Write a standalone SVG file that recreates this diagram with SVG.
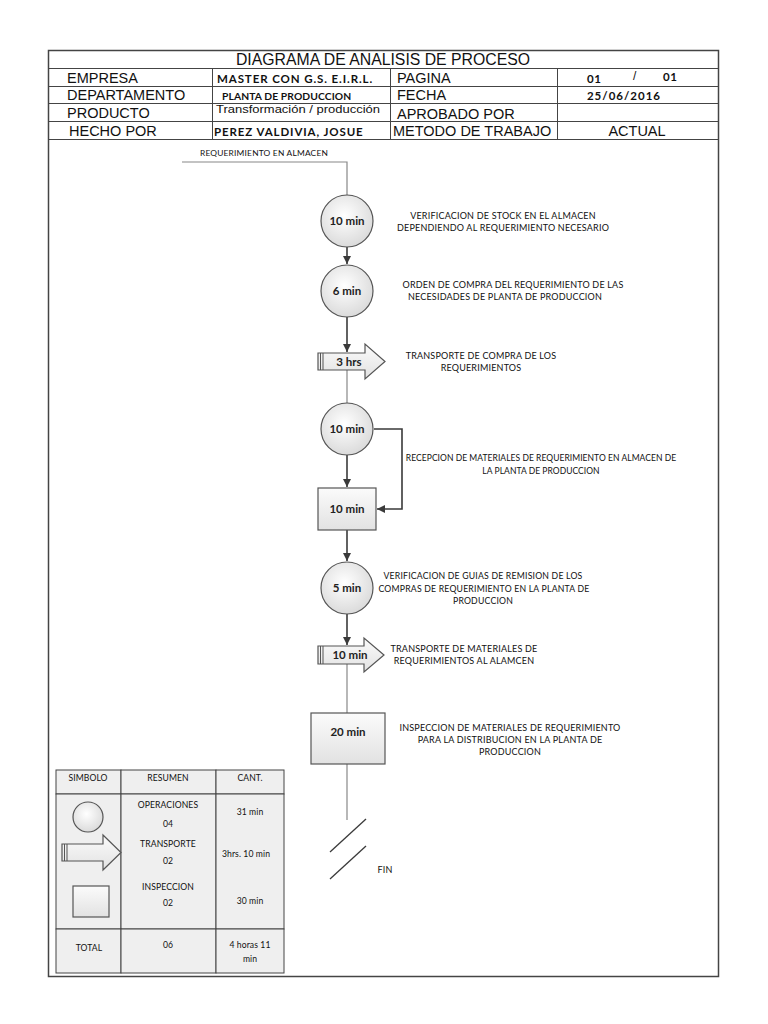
<svg xmlns="http://www.w3.org/2000/svg" width="768" height="1024" viewBox="0 0 768 1024">
<style>
.hd{font-family:"Liberation Sans",Arial,sans-serif;font-size:14.5px;fill:#111}
.val{font-family:Lato,"Open Sans",sans-serif;font-size:11.5px;font-weight:bold;fill:#111;letter-spacing:0.6px}
.sm{font-family:Lato,"Open Sans",sans-serif;font-size:9px;fill:#111;text-anchor:middle;letter-spacing:0.2px}
.tb{font-family:Lato,"Open Sans",sans-serif;font-size:8.6px;fill:#111;text-anchor:middle;letter-spacing:0.1px}
.nl{font-family:Lato,"Open Sans",sans-serif;font-size:11.5px;font-weight:bold;fill:#222;text-anchor:middle}
.grid{stroke:#444;stroke-width:1;fill:none}
.op{fill:url(#rg);stroke:#555;stroke-width:1.2}
.box{fill:url(#lg);stroke:#555;stroke-width:1.2}
.con{stroke:#3a3a3a;stroke-width:1.6;fill:none}
.thin{stroke:#888;stroke-width:1.2;fill:none}
.cell{fill:#efefef;stroke:#444;stroke-width:1}
</style>
<defs>
<radialGradient id="rg" cx="0.45" cy="0.4" r="0.65">
<stop offset="0" stop-color="#ffffff"/>
<stop offset="1" stop-color="#d8d8d8"/>
</radialGradient>
<linearGradient id="lg" x1="0" y1="0" x2="0" y2="1">
<stop offset="0" stop-color="#fbfbfb"/>
<stop offset="1" stop-color="#e2e2e2"/>
</linearGradient>
<marker id="ah" markerWidth="10" markerHeight="10" refX="8" refY="5" orient="auto" markerUnits="userSpaceOnUse">
<path d="M0,1 L8,5 L0,9 Z" fill="#3a3a3a"/>
</marker>
</defs>
<rect width="768" height="1024" fill="#fff"/>
<g id="frame">
<rect x="48.5" y="50.5" width="670" height="926" class="grid" style="stroke-width:1.5"/>
<line x1="48" y1="68.5" x2="719" y2="68.5" class="grid"/>
<line x1="48" y1="86.5" x2="719" y2="86.5" class="grid"/>
<line x1="48" y1="103.5" x2="719" y2="103.5" class="grid"/>
<line x1="48" y1="121.5" x2="719" y2="121.5" class="grid"/>
<line x1="48" y1="139.5" x2="719" y2="139.5" class="grid"/>
<line x1="212.5" y1="68" x2="212.5" y2="139" class="grid"/>
<line x1="390.5" y1="68" x2="390.5" y2="139" class="grid"/>
<line x1="557.5" y1="68" x2="557.5" y2="139" class="grid"/>
<text x="383" y="64.5" class="hd" text-anchor="middle" style="font-size:15.8px">DIAGRAMA DE ANALISIS DE PROCESO</text>
<text x="67" y="83" class="hd">EMPRESA</text>
<text x="67" y="100" class="hd">DEPARTAMENTO</text>
<text x="67" y="118" class="hd">PRODUCTO</text>
<text x="69" y="136" class="hd">HECHO POR</text>
<text x="217" y="83" class="val" style="letter-spacing:0.9px">MASTER CON G.S. E.I.R.L.</text>
<text x="222" y="100" class="val" style="font-size:10.3px;letter-spacing:0.1px">PLANTA DE PRODUCCION</text>
<text x="216" y="113" class="hd" style="font-size:11px" textLength="164" lengthAdjust="spacingAndGlyphs">Transformación / producción</text>
<text x="214" y="136" class="val" style="letter-spacing:0.9px">PEREZ VALDIVIA, JOSUE</text>
<text x="397" y="83" class="hd">PAGINA</text>
<text x="397" y="100" class="hd">FECHA</text>
<text x="397" y="119" class="hd">APROBADO POR</text>
<text x="393" y="136" class="hd">METODO DE TRABAJO</text>
<text x="587" y="83" class="val">01</text>
<text x="633" y="80" class="hd" style="font-size:12px">/</text>
<text x="663" y="81" class="val">01</text>
<text x="624" y="100" class="val" text-anchor="middle" style="letter-spacing:1px">25/06/2016</text>
<text x="637" y="136" class="hd" text-anchor="middle">ACTUAL</text>
</g>
<g id="connectors">
<polyline points="182,162 347,162 347,195" class="thin"/>
<line x1="347" y1="247" x2="347" y2="264" class="con" marker-end="url(#ah)"/>
<line x1="347" y1="317" x2="347" y2="352" class="con" marker-end="url(#ah)"/>
<line x1="347" y1="370" x2="347" y2="403" class="thin"/>
<line x1="347" y1="455" x2="347" y2="487" class="con" marker-end="url(#ah)"/>
<polyline points="374,429 402,429 402,509 377,509" class="con" marker-end="url(#ah)"/>
<line x1="347" y1="530" x2="347" y2="561" class="con" marker-end="url(#ah)"/>
<line x1="347" y1="614" x2="347" y2="645" class="con" marker-end="url(#ah)"/>
<line x1="347" y1="664" x2="347" y2="713" class="thin"/>
<line x1="347" y1="764" x2="347" y2="820" class="thin"/>
<line x1="330" y1="852" x2="366" y2="819" class="con" style="stroke-width:1.3"/>
<line x1="330" y1="879" x2="366" y2="846" class="con" style="stroke-width:1.3"/>
</g>
<g id="start"><text x="264" y="156" class="sm" style="font-size:8.4px">REQUERIMIENTO EN ALMACEN</text></g>
<g id="n1">
<circle cx="347" cy="221" r="26" class="op"/>
<text x="347" y="225" class="nl">10 min</text>
<text x="503" y="219" class="sm">VERIFICACION DE STOCK EN EL ALMACEN</text>
<text x="503" y="231" class="sm">DEPENDIENDO AL REQUERIMIENTO NECESARIO</text>
</g>
<g id="n2">
<circle cx="347" cy="291" r="26" class="op"/>
<text x="347" y="295" class="nl">6 min</text>
<text x="513" y="288" class="sm">ORDEN DE COMPRA  DEL REQUERIMIENTO DE LAS</text>
<text x="505" y="300" class="sm">NECESIDADES DE PLANTA DE PRODUCCION</text>
</g>
<g id="n3">
<path d="M318,353 L365,353 L365,344 L385,361.5 L365,379 L365,370 L318,370 Z" class="box"/>
<line x1="320.5" y1="353" x2="320.5" y2="370" stroke="#555"/>
<line x1="323" y1="353" x2="323" y2="370" stroke="#555"/>
<text x="349" y="366" class="nl">3 hrs</text>
<text x="481" y="359" class="sm">TRANSPORTE DE COMPRA DE LOS</text>
<text x="481" y="371" class="sm">REQUERIMIENTOS</text>
</g>
<g id="n4">
<circle cx="347" cy="429" r="26" class="op"/>
<text x="347" y="433" class="nl">10 min</text>
<text x="541" y="461" class="sm" style="font-size:8.5px;letter-spacing:0.05px">RECEPCION DE MATERIALES DE REQUERIMIENTO EN ALMACEN DE</text>
<text x="541" y="474" class="sm" style="font-size:8.5px;letter-spacing:0.05px">LA PLANTA DE PRODUCCION</text>
</g>
<g id="n5">
<rect x="318" y="488" width="58" height="42" class="box"/>
<text x="347" y="513" class="nl">10 min</text>
</g>
<g id="n6">
<circle cx="347" cy="588" r="26" class="op"/>
<text x="347" y="592" class="nl">5 min</text>
<text x="483" y="579" class="sm" style="font-size:8.7px">VERIFICACION DE GUIAS DE REMISION DE LOS</text>
<text x="484" y="592" class="sm" style="font-size:8.7px">COMPRAS DE REQUERIMIENTO EN LA PLANTA DE</text>
<text x="483" y="604" class="sm" style="font-size:8.7px">PRODUCCION</text>
</g>
<g id="n7">
<path d="M318,646 L364,646 L364,638 L384,655 L364,672 L364,664 L318,664 Z" class="box"/>
<line x1="320.5" y1="646" x2="320.5" y2="664" stroke="#555"/>
<line x1="323" y1="646" x2="323" y2="664" stroke="#555"/>
<text x="350" y="659" class="nl">10 min</text>
<text x="464" y="652" class="sm">TRANSPORTE DE MATERIALES DE</text>
<text x="464" y="664" class="sm">REQUERIMIENTOS AL ALAMCEN</text>
</g>
<g id="n8">
<rect x="311" y="713" width="74" height="51" class="box"/>
<text x="348" y="736" class="nl">20 min</text>
<text x="510" y="731" class="sm">INSPECCION DE MATERIALES DE REQUERIMIENTO</text>
<text x="510" y="743" class="sm">PARA LA DISTRIBUCION  EN LA PLANTA DE</text>
<text x="510" y="755" class="sm">PRODUCCION</text>
</g>
<g id="fin"><text x="385" y="873" class="sm">FIN</text></g>
<g id="summary">
<rect x="56" y="770" width="65" height="24" class="cell"/>
<rect x="121" y="770" width="95" height="24" class="cell"/>
<rect x="216" y="770" width="68" height="24" class="cell"/>
<rect x="56" y="794" width="65" height="135" class="cell"/>
<rect x="121" y="794" width="95" height="135" class="cell"/>
<rect x="216" y="794" width="68" height="135" class="cell"/>
<rect x="56" y="929" width="65" height="44" class="cell"/>
<rect x="121" y="929" width="95" height="44" class="cell"/>
<rect x="216" y="929" width="68" height="44" class="cell"/>
<text x="88" y="781" class="tb">SIMBOLO</text>
<text x="168" y="781" class="tb">RESUMEN</text>
<text x="250" y="781" class="tb">CANT.</text>
<circle cx="88" cy="817" r="15" class="op"/>
<path d="M62,844 L103,844 L103,835 L121,852.5 L103,870 L103,861 L62,861 Z" class="box"/>
<line x1="64.5" y1="844" x2="64.5" y2="861" stroke="#555"/>
<line x1="67" y1="844" x2="67" y2="861" stroke="#555"/>
<rect x="73" y="886" width="36" height="31" class="box"/>
<text x="168" y="808" class="tb">OPERACIONES</text>
<text x="168" y="827" class="tb">04</text>
<text x="168" y="847" class="tb">TRANSPORTE</text>
<text x="168" y="864" class="tb">02</text>
<text x="168" y="890" class="tb">INSPECCION</text>
<text x="168" y="906" class="tb">02</text>
<text x="250" y="815" class="tb">31 min</text>
<text x="246" y="857" class="tb">3hrs. 10 min</text>
<text x="250" y="904" class="tb">30 min</text>
<text x="89" y="951" class="tb">TOTAL</text>
<text x="168" y="948" class="tb">06</text>
<text x="250" y="948" class="tb">4 horas 11</text>
<text x="250" y="962" class="tb">min</text>
</g>
</svg>
